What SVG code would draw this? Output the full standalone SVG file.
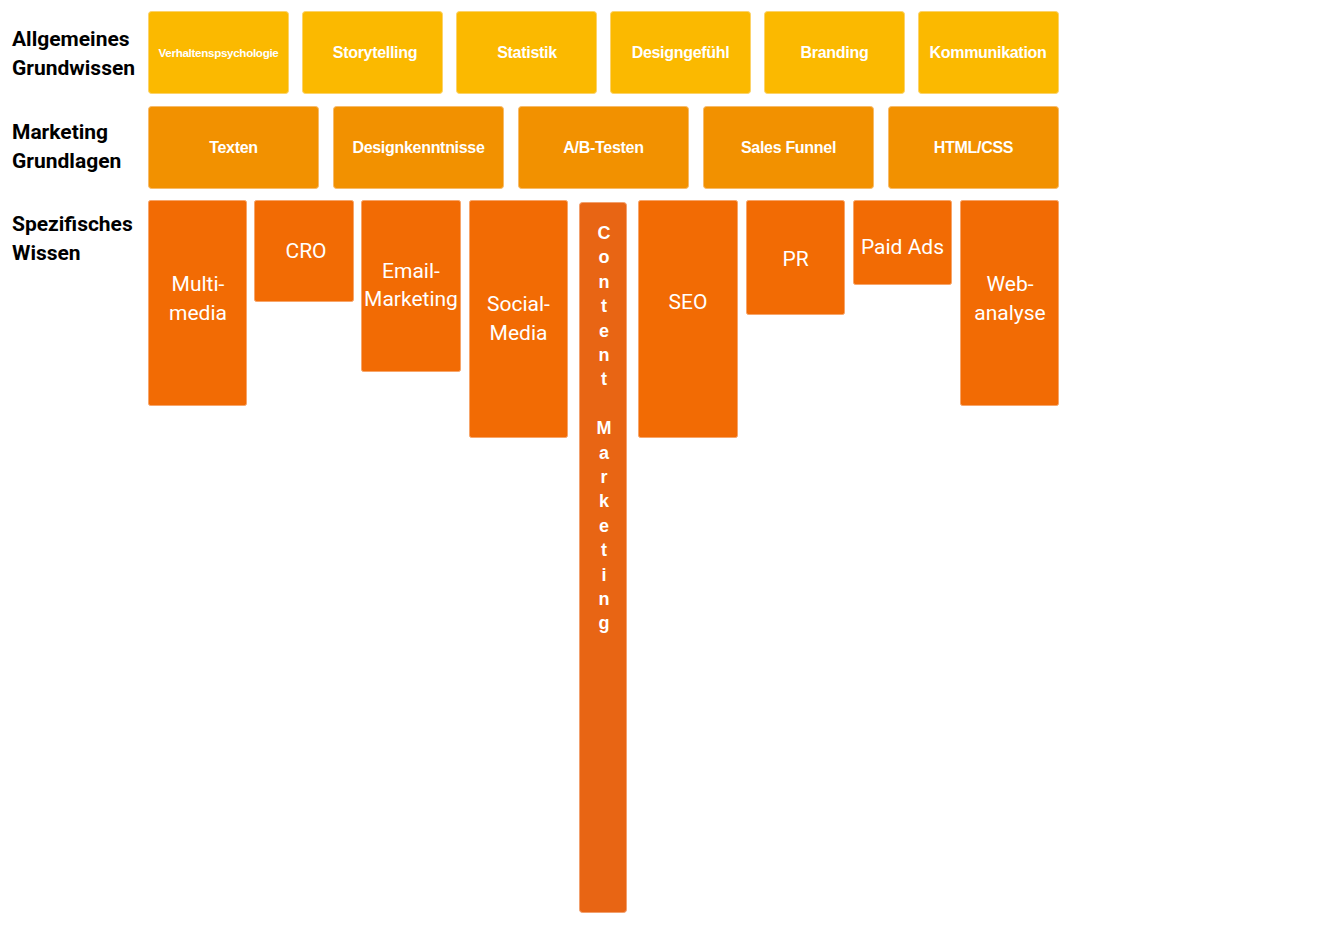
<svg xmlns="http://www.w3.org/2000/svg" width="1322" height="926" viewBox="0 0 1322 926">
<style>
.bg{fill:#ffffff}
.r1{fill:#FBB900;stroke:#FCD36A;stroke-width:1}
.r2{fill:#F29100;stroke:#F7BB6A;stroke-width:1}
.r3{fill:#F26B04;stroke:#F7A56A;stroke-width:1}
.cm{fill:#E86514;stroke:#F2A06E;stroke-width:1}
.lbl{font-family:Roboto,"Liberation Sans",sans-serif;font-weight:bold;font-size:21px;fill:#000}
.t1{font-family:"Liberation Sans",Arial,sans-serif;font-weight:bold;font-size:16px;fill:#fff;text-anchor:middle;letter-spacing:-0.3px}
.t3{font-family:Roboto,"Liberation Sans",sans-serif;font-size:21px;fill:#fff;text-anchor:middle}
.tv{font-family:"Liberation Sans",Arial,sans-serif;font-weight:bold;font-size:18px;fill:#fff;text-anchor:middle}
</style>
<rect class="bg" x="0" y="0" width="1322" height="926"/>
<g id="labels">
<text class="lbl" x="12" y="46">Allgemeines</text>
<text class="lbl" x="12" y="75">Grundwissen</text>
<text class="lbl" x="12" y="139">Marketing</text>
<text class="lbl" x="12" y="168">Grundlagen</text>
<text class="lbl" x="12" y="231">Spezifisches</text>
<text class="lbl" x="12" y="260">Wissen</text>
</g>
<g id="row1">
<g id="verhaltenspsychologie"><rect class="r1" x="148.5" y="11.5" width="140" height="82" rx="3"/><text class="t1" x="218.5" y="57" style="font-size:11.6px">Verhaltenspsychologie</text></g>
<g id="storytelling"><rect class="r1" x="302.5" y="11.5" width="140" height="82" rx="3"/><text class="t1" x="375" y="58">Storytelling</text></g>
<g id="statistik"><rect class="r1" x="456.5" y="11.5" width="140" height="82" rx="3"/><text class="t1" x="527" y="58">Statistik</text></g>
<g id="designgefuehl"><rect class="r1" x="610.5" y="11.5" width="140" height="82" rx="3"/><text class="t1" x="680.5" y="58">Designgefühl</text></g>
<g id="branding"><rect class="r1" x="764.5" y="11.5" width="140" height="82" rx="3"/><text class="t1" x="834.5" y="58">Branding</text></g>
<g id="kommunikation"><rect class="r1" x="918.5" y="11.5" width="140" height="82" rx="3"/><text class="t1" x="988" y="58">Kommunikation</text></g>
</g>
<g id="row2">
<g id="texten"><rect class="r2" x="148.5" y="106.5" width="170" height="82" rx="3"/><text class="t1" x="233.5" y="153">Texten</text></g>
<g id="designkenntnisse"><rect class="r2" x="333.5" y="106.5" width="170" height="82" rx="3"/><text class="t1" x="418.5" y="153">Designkenntnisse</text></g>
<g id="abtesten"><rect class="r2" x="518.5" y="106.5" width="170" height="82" rx="3"/><text class="t1" x="603.5" y="153">A/B-Testen</text></g>
<g id="salesfunnel"><rect class="r2" x="703.5" y="106.5" width="170" height="82" rx="3"/><text class="t1" x="788.5" y="153">Sales Funnel</text></g>
<g id="htmlcss"><rect class="r2" x="888.5" y="106.5" width="170" height="82" rx="3"/><text class="t1" x="973.5" y="153">HTML/CSS</text></g>
</g>
<g id="row3">
<g id="multimedia"><rect class="r3" x="148.5" y="200.5" width="98" height="205" rx="2"/><text class="t3" x="198" y="291">Multi-</text><text class="t3" x="198" y="320">media</text></g>
<g id="cro"><rect class="r3" x="254.5" y="200.5" width="99" height="101" rx="2"/><text class="t3" x="306" y="258">CRO</text></g>
<g id="emailmarketing"><rect class="r3" x="361.5" y="200.5" width="99" height="171" rx="2"/><text class="t3" x="411" y="278">Email-</text><text class="t3" x="411" y="306">Marketing</text></g>
<g id="socialmedia"><rect class="r3" x="469.5" y="200.5" width="98" height="237" rx="2"/><text class="t3" x="518.5" y="311">Social-</text><text class="t3" x="518.5" y="340">Media</text></g>
<g id="contentmarketing"><rect class="cm" x="579.5" y="202.5" width="47" height="710" rx="3"/>
<text class="tv"><tspan x="604" y="239">C</tspan><tspan x="604" dy="24.4">o</tspan><tspan x="604" dy="24.4">n</tspan><tspan x="604" dy="24.4">t</tspan><tspan x="604" dy="24.4">e</tspan><tspan x="604" dy="24.4">n</tspan><tspan x="604" dy="24.4">t</tspan><tspan x="604" dy="48.8">M</tspan><tspan x="604" dy="24.4">a</tspan><tspan x="604" dy="24.4">r</tspan><tspan x="604" dy="24.4">k</tspan><tspan x="604" dy="24.4">e</tspan><tspan x="604" dy="24.4">t</tspan><tspan x="604" dy="24.4">i</tspan><tspan x="604" dy="24.4">n</tspan><tspan x="604" dy="24.4">g</tspan></text></g>
<g id="seo"><rect class="r3" x="638.5" y="200.5" width="99" height="237" rx="2"/><text class="t3" x="688" y="309">SEO</text></g>
<g id="pr"><rect class="r3" x="746.5" y="200.5" width="98" height="114" rx="2"/><text class="t3" x="795.5" y="266">PR</text></g>
<g id="paidads"><rect class="r3" x="853.5" y="200.5" width="98" height="84" rx="2"/><text class="t3" x="902.5" y="254">Paid Ads</text></g>
<g id="webanalyse"><rect class="r3" x="960.5" y="200.5" width="98" height="205" rx="2"/><text class="t3" x="1010" y="291">Web-</text><text class="t3" x="1010" y="320">analyse</text></g>
</g>
<g id="connectors"></g>
</svg>
